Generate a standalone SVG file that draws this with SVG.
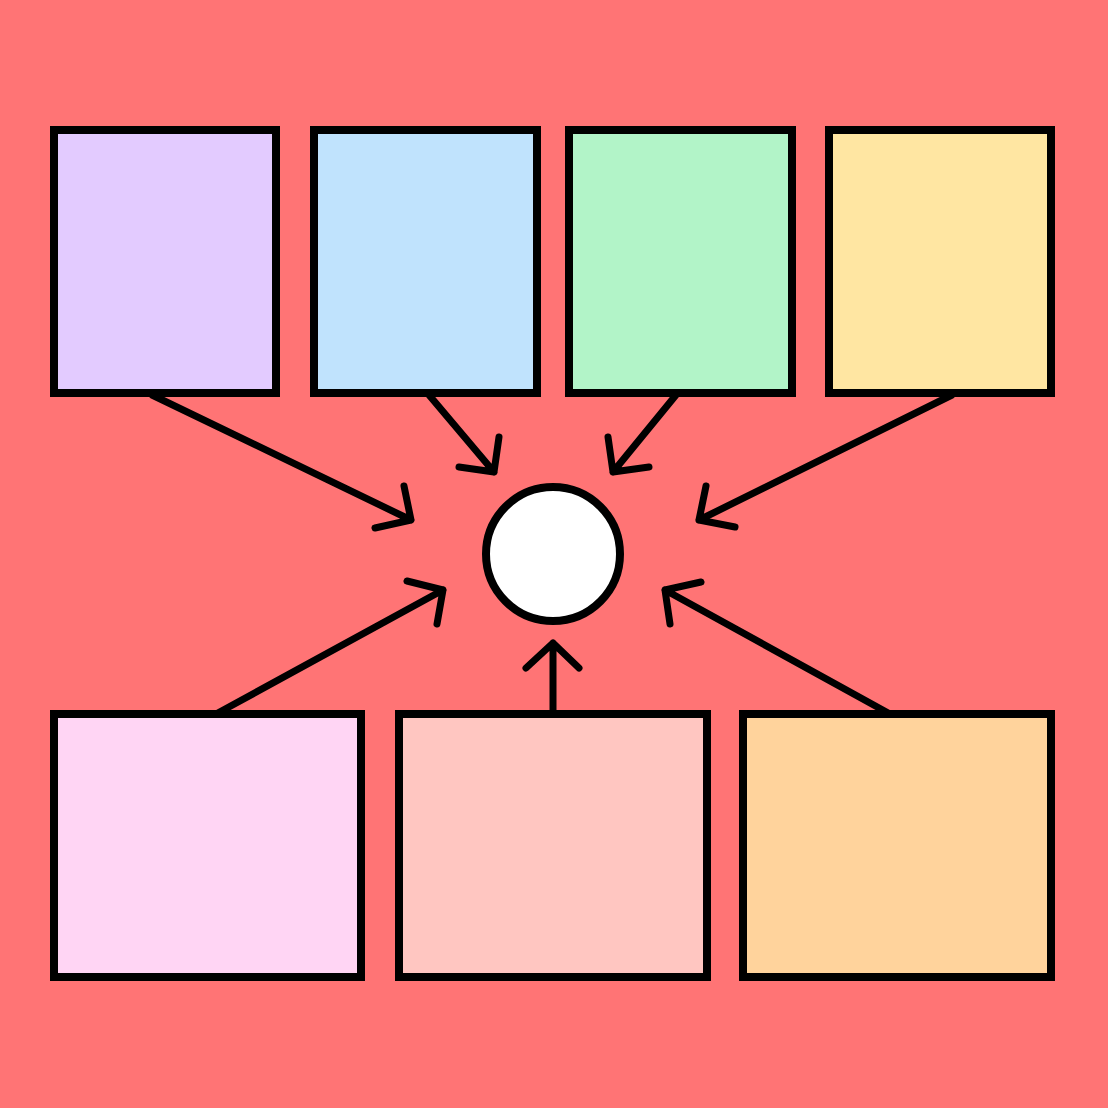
<svg xmlns="http://www.w3.org/2000/svg" width="1108" height="1108" viewBox="0 0 1108 1108">
<style>
.box{stroke:#000;stroke-width:8}
.c{fill:none;stroke:#000;stroke-width:7;stroke-linecap:round;stroke-linejoin:round}
</style>
<rect width="1108" height="1108" fill="#ff7475"/>
<g id="n1"><rect class="box" x="54" y="130" width="222" height="263" fill="#e3cbff"/></g>
<g id="n2"><rect class="box" x="314" y="130" width="223" height="263" fill="#c0e3fd"/></g>
<g id="n3"><rect class="box" x="569" y="130" width="223" height="263" fill="#b2f4c8"/></g>
<g id="n4"><rect class="box" x="829" y="130" width="222" height="263" fill="#ffe6a2"/></g>
<g id="hub"><circle class="box" cx="553" cy="554" r="67" fill="#fff"/></g>
<g id="n5"><rect class="box" x="54" y="714" width="307" height="263" fill="#ffd5f4"/></g>
<g id="n6"><rect class="box" x="399" y="714" width="308" height="263" fill="#ffc6c1"/></g>
<g id="n7"><rect class="box" x="743" y="714" width="308" height="263" fill="#ffd39c"/></g>
<g id="connectors">
<path class="c" d="M152,395 L411,520 M375,528 L411,520 L404,486"/>
<path class="c" d="M429,395 L494,472 M459,467 L494,472 L499,437"/>
<path class="c" d="M676,395 L613,472 M608,437 L613,472 L649,467"/>
<path class="c" d="M952,395 L699,520 M706,486 L699,520 L735,527"/>
<path class="c" d="M216,714 L443,590 M407,581 L443,590 L437,624"/>
<path class="c" d="M553,714 L553,643 M526,668 L553,643 L579,668"/>
<path class="c" d="M890,714 L665,590 M670,624 L665,590 L701,582"/>
</g>
</svg>
